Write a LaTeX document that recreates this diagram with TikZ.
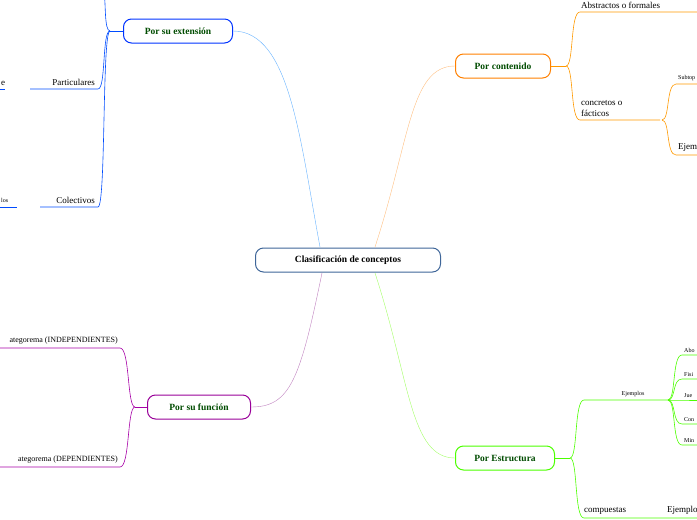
\documentclass[tikz,border=0pt]{standalone}
\usepackage{fontspec}
\setmainfont{Liberation Serif}
\begin{document}
\begin{tikzpicture}[x=1pt,y=-1pt,
  main/.style={draw,line width=1pt,rounded corners=8pt,fill=white,font=\bfseries\fontsize{9.5}{10}\selectfont,text=green!30!black,minimum height=24pt,inner xsep=10pt},
  lbl/.style={font=\fontsize{9}{11}\selectfont,inner sep=1pt},
  sml/.style={font=\fontsize{8}{10}\selectfont,inner sep=1pt},
  tiny/.style={font=\fontsize{6}{7}\selectfont,inner sep=1pt},
  bl/.style={draw=blue!70!cyan,line width=0.6pt},
  orr/.style={draw=orange!80!yellow,line width=0.6pt},
  pu/.style={draw=violet!70!magenta,line width=0.6pt},
  gr/.style={draw=green!70!yellow,line width=0.6pt}]
\useasboundingbox (0,0) rectangle (697,520);
\clip (0,0) rectangle (697,520);
\coordinate (c1) at (320,247); \coordinate (c2) at (375,247);
\coordinate (c3) at (322,273); \coordinate (c4) at (375,273);
\node[main,draw=cyan!50!blue!70!black,text=black,minimum width=185pt] (C) at (348,260) {Clasificación de conceptos};
\node[main,draw=blue!80!cyan,minimum width=109pt] (E) at (178,31) {Por su extensión};
\node[main,draw=orange,minimum width=95pt] (K) at (503,66) {Por contenido};
\node[main,draw=violet!80!magenta,minimum width=103pt] (F) at (199,407) {Por su función};
\node[main,draw=green!70!yellow,minimum width=99pt] (S) at (505,458) {Por Estructura};
\draw[draw=blue!50!cyan!60] (c1) .. controls (300,140) and (290,31) .. (E.east);
\draw[draw=orange!50] (c2) .. controls (410,140) and (410,66) .. (K.west);
\draw[draw=violet!50] (c3) .. controls (300,380) and (290,407) .. (F.east);
\draw[draw=green!60!yellow!60] (c4) .. controls (410,380) and (410,458) .. (S.west);
% extension
\coordinate (eb) at (110,31);
\draw[bl] (E.west) -- (eb);
\draw[bl] (eb) .. controls (104,31) and (106,0) .. (104,-5);
\draw[bl] (eb) .. controls (102,31) and (106,89) .. (98,89) -- (30,89);
\draw[bl] (eb) .. controls (102,31) and (106,207) .. (98,207) -- (40,207);
\node[lbl,anchor=south east] (p) at (96,87) {Particulares};
\node[lbl,anchor=south east] (c) at (96,205) {Colectivos};
\draw[bl] (0,89) -- (5,89); \node[lbl,anchor=south west] (pe) at (0,87) {e};
\draw[bl] (0,207) -- (17,207); \node[tiny,anchor=south west] (cl) at (0,204) {los};
% contenido
\coordinate (kb) at (566,66);
\draw[orr] (K.east) -- (kb);
\draw[orr] (kb) .. controls (574,66) and (570,12) .. (580,12) -- (697,12);
\draw[orr] (kb) .. controls (574,66) and (570,120) .. (580,120) -- (660,120);
\node[lbl,anchor=south west] (ab) at (580,10) {Abstractos o formales};
\node[lbl,anchor=south west,align=left] (co) at (580,118) {concretos o\\fácticos};
\coordinate (kb2) at (662,120);
\draw[orr] (kb2) .. controls (670,120) and (666,84) .. (676,84) -- (697,84);
\draw[orr] (kb2) .. controls (670,120) and (666,155) .. (676,155) -- (697,155);
\node[tiny,anchor=south west] (st) at (677,82) {Subtop};
\node[lbl,anchor=south west] (ej) at (677,153) {Ejem};
% funcion
\coordinate (fb) at (135,407);
\draw[pu] (F.west) -- (fb);
\draw[pu] (fb) .. controls (127,407) and (130,348) .. (120,348) -- (0,348);
\draw[pu] (fb) .. controls (127,407) and (130,467) .. (120,467) -- (0,467);
\node[sml,anchor=south east] (ind) at (119,345) {ategorema (INDEPENDIENTES)};
\node[sml,anchor=south east] (dep) at (119,464) {ategorema (DEPENDIENTES)};
% estructura
\coordinate (sb) at (570,458);
\draw[gr] (S.east) -- (sb);
\draw[gr] (sb) .. controls (578,458) and (574,400) .. (584,400) -- (668,400);
\draw[gr] (sb) .. controls (578,458) and (574,518) .. (584,518) -- (697,518);
\node[tiny,anchor=south] (ejs) at (633,398) {Ejemplos};
\node[lbl,anchor=south west] (cp) at (583,516) {compuestas};
\node[lbl,anchor=south west] (ej2) at (666,516) {Ejemplo};
\coordinate (sb2) at (668,400);
\foreach \yy/\tt in {355/Abo,379/Fisi,400/Jue,424/Con,445/Min}{
  \draw[gr] (sb2) .. controls (676,400) and (672,\yy) .. (682,\yy) -- (697,\yy);
  \node[tiny,anchor=south west] at (683,\yy-1) {\tt};
}
\end{tikzpicture}
\end{document}
